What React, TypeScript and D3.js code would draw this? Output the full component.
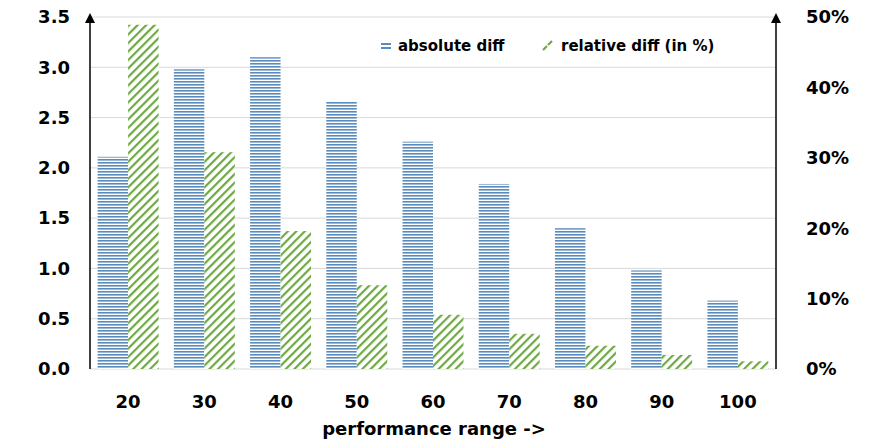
import React from "react";
import * as d3 from "d3";

const categories = ["20", "30", "40", "50", "60", "70", "80", "90", "100"];
const absoluteDiff = [2.11, 2.98, 3.1, 2.66, 2.26, 1.84, 1.4, 0.98, 0.68];
const relativeDiff = [48.9, 30.8, 19.6, 11.9, 7.7, 5.0, 3.3, 2.0, 1.1];
const leftTicks = [0, 0.5, 1, 1.5, 2, 2.5, 3, 3.5];
const rightTicks = [0, 10, 20, 30, 40, 50];

const W = 884, H = 446;
const L = 90, R = 776, T = 17, B = 369;
const font = "'DejaVu Sans', 'Open Sans', sans-serif";

export default function App() {
  const x = d3.scaleBand().domain(categories).range([L, R]).paddingInner(0.2).paddingOuter(0.1);
  const yl = d3.scaleLinear().domain([0, 3.5]).range([B, T]);
  const yr = d3.scaleLinear().domain([0, 50]).range([B, T]);
  const bw = x.bandwidth() / 2;
  return (
    <svg width={W} height={H} style={{ position: "absolute", left: 0, top: 0, background: "#fff" }}>
      <defs>
        <pattern id="hz" width="4" height="3" patternUnits="userSpaceOnUse">
          <rect width="4" height="3" fill="#fff" />
          <rect width="4" height="1.6" fill="#5a8bbd" />
        </pattern>
        <pattern id="dg" width="6" height="6" patternUnits="userSpaceOnUse" patternTransform="rotate(45)">
          <rect width="6" height="6" fill="#fff" />
          <rect width="2.2" height="6" fill="#6fa944" />
        </pattern>
      </defs>
      {leftTicks.map((t) => (
        <line key={"g" + t} x1={L} x2={R} y1={yl(t)} y2={yl(t)} stroke="#d9d9d9" strokeWidth={1} />
      ))}
      {categories.map((c, i) => (
        <g key={c}>
          <rect x={x(c)!} y={yl(absoluteDiff[i])} width={bw} height={B - yl(absoluteDiff[i])} fill="url(#hz)" />
          <rect x={x(c)! + bw} y={yr(relativeDiff[i])} width={bw} height={B - yr(relativeDiff[i])} fill="url(#dg)" />
        </g>
      ))}
      <line x1={L} x2={L} y1={B} y2={T + 4} stroke="#000" strokeWidth={1.5} />
      <path d={`M${L - 5},${T + 6} L${L},${T - 4} L${L + 5},${T + 6} Z`} fill="#000" />
      <line x1={R} x2={R} y1={B} y2={T + 4} stroke="#000" strokeWidth={1.5} />
      <path d={`M${R - 5},${T + 6} L${R},${T - 4} L${R + 5},${T + 6} Z`} fill="#000" />
      {leftTicks.map((t) => (
        <text key={"l" + t} x={70} y={yl(t)} dy="0.35em" textAnchor="end" fontFamily={font} fontWeight="bold" fontSize={18} fill="#000">
          {t.toFixed(1)}
        </text>
      ))}
      {rightTicks.map((t) => (
        <text key={"r" + t} x={806} y={yr(t)} dy="0.35em" textAnchor="start" fontFamily={font} fontWeight="bold" fontSize={18} fill="#000">
          {t + "%"}
        </text>
      ))}
      {categories.map((c) => (
        <text key={"x" + c} x={x(c)! + bw} y={402} dy="0.35em" textAnchor="middle" fontFamily={font} fontWeight="bold" fontSize={18} fill="#000">
          {c}
        </text>
      ))}
      <text x={434} y={429} dy="0.35em" textAnchor="middle" fontFamily={font} fontWeight="bold" fontSize={18} fill="#000">
        performance range -&gt;
      </text>
      <g fontFamily={font} fontWeight="bold" fontSize={15} fill="#000">
        <rect x={381} y={43} width={10} height={2} fill="#5a8bbd" />
        <rect x={381} y={47} width={10} height={2} fill="#5a8bbd" />
        <text x={398} y={46} dy="0.35em">absolute diff</text>
        <path d="M543,50 L547,46 M548,45 L552,41" stroke="#6fa944" strokeWidth={2.2} />
        <text x={561} y={46} dy="0.35em">relative diff  (in %)</text>
      </g>
    </svg>
  );
}
